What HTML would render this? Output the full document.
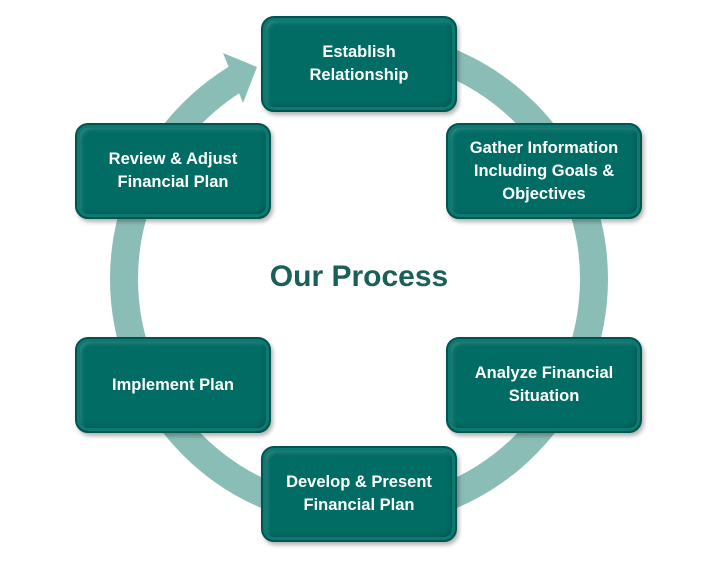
<!DOCTYPE html>
<html><head><style>
body{margin:0;width:705px;height:561px;background:#fff;position:relative;overflow:hidden;font-family:"Liberation Sans",sans-serif}
.b{position:absolute;width:196px;height:96px;box-sizing:border-box;border-radius:13px;background:#006c64;border:2px solid #00544e;box-shadow:inset 0 0 0 3px #0c7a72,inset 3px 3px 6px rgba(255,255,255,.25),inset -3px -3px 6px rgba(0,0,0,.25),2px 3px 4px rgba(0,0,0,.3);color:#fff;font-weight:bold;font-size:16.5px;line-height:23px;display:flex;align-items:center;justify-content:center;text-align:center}
</style></head><body>
<svg width="705" height="561" style="position:absolute;left:0;top:0">
<circle cx="359" cy="279" r="235" fill="none" stroke="#8bbdb7" stroke-width="28"/>
<polygon points="236,60 262,20 290,20 290,90 250,95" fill="#fff"/>
<polygon points="223,53 257,67 243,103" fill="#8bbdb7"/>
</svg>
<div class="b" style="left:261px;top:16px">Establish<br>Relationship</div>
<div class="b" style="left:446px;top:123px">Gather Information<br>Including Goals &amp;<br>Objectives</div>
<div class="b" style="left:446px;top:337px">Analyze Financial<br>Situation</div>
<div class="b" style="left:261px;top:446px">Develop &amp; Present<br>Financial Plan</div>
<div class="b" style="left:75px;top:337px">Implement Plan</div>
<div class="b" style="left:75px;top:123px">Review &amp; Adjust<br>Financial Plan</div>
<div style="position:absolute;left:200px;width:318px;top:260px;text-align:center;font-weight:bold;font-size:30px;color:#1b6058">Our Process</div>
</body></html>
